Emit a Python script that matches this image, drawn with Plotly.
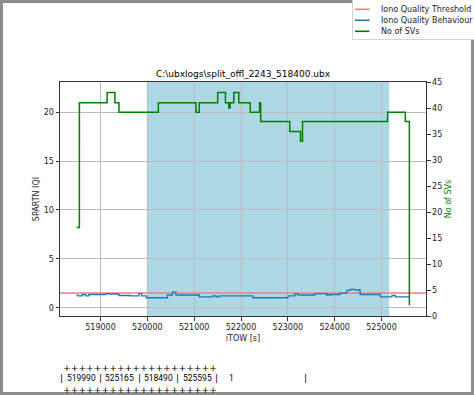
import plotly.graph_objects as go

# ---- data ----
title_text = "C:\\ubxlogs\\split_offl_2243_518400.ubx"
x_range = [518135, 525950]
shade_range = [519990, 525165]
threshold = 1.5

iqi_tow = [518490, 518519, 518605, 518678, 518749, 519120, 519178, 519393, 519644, 519822,
           519880, 519979, 520429, 520537, 520610, 521110, 521395, 521468, 521539, 521610,
           522253, 523004, 523148, 523219, 523577, 523829, 523899, 524114, 524258, 524329,
           524436, 524507, 524543, 524972, 525223, 525294, 525595]
iqi_val = [1.3, 1.2, 1.35, 1.2, 1.35, 1.45, 1.4, 1.25, 1.2, 1.45,
           1.2, 1.02, 1.3, 1.6, 1.3, 1.1, 1.2, 1.1, 1.2, 1.2,
           1.02, 1.2, 1.4, 1.3, 1.45, 1.3, 1.35, 1.5, 1.78, 1.88,
           1.8, 1.85, 1.35, 1.1, 1.25, 1.1, 1.1]

sv_tow = [518490, 518549, 519142, 519307, 519393, 520235, 521039, 521109, 521502, 521668,
          521738, 521768, 521846, 521953, 522197, 522397, 522420, 523041, 523271, 523313,
          525129, 525509, 525580, 525595]
sv_val = [17, 41, 43, 41, 39.2, 41, 39.2, 41, 43, 41,
          40, 41, 43, 41, 39.2, 41, 37.4, 35.5, 33.6, 37.4,
          39.2, 37.4, 37.4, 2.1]

series_names = ["Iono Quality Threshold", "Iono Quality Behaviour", "No of SVs"]
series_colors = ["#f08080", "#1f77b4", "#008000"]

table_values = ["519990", "525165", "518490", "525595", "1"]
left_ticks = [0, 5, 10, 15, 20]
right_ticks = [0, 5, 10, 15, 20, 25, 30, 35, 40, 45]

FONT = "DejaVu Sans"

fig = go.Figure()
fig.add_trace(go.Scatter(x=x_range, y=[threshold, threshold], mode="lines",
                         name=series_names[0],
                         line=dict(color=series_colors[0], width=1.6)))
fig.add_trace(go.Scatter(x=iqi_tow, y=iqi_val, mode="lines", line_shape="hv",
                         name=series_names[1],
                         line=dict(color=series_colors[1], width=1.3)))
fig.add_trace(go.Scatter(x=sv_tow, y=sv_val, mode="lines", line_shape="hv",
                         name=series_names[2], yaxis="y2",
                         line=dict(color=series_colors[2], width=1.5)))

# plot area geometry (px)
W, H = 474, 395
L, R, T, B = 60, 48, 82, 79
pw, ph = W - L - R, H - T - B

def px2paper_x(px):
    return (px - L) / pw

def px2paper_y(py):
    return (H - B - py) / ph

shapes = [
    dict(type="rect", xref="x", yref="paper", x0=shade_range[0], x1=shade_range[1],
         y0=0, y1=1, fillcolor="#add8e6", line=dict(width=0), layer="below"),
    # window frame
    dict(type="rect", xref="paper", yref="paper",
         x0=px2paper_x(1.5), x1=px2paper_x(W - 1.5), y0=px2paper_y(H - 1.5), y1=px2paper_y(1.5),
         line=dict(color="#8c8c8c", width=3), fillcolor="rgba(0,0,0,0)", layer="above"),
    # legend box
    dict(type="rect", xref="paper", yref="paper",
         x0=px2paper_x(352.5), x1=px2paper_x(W + 2), y0=px2paper_y(39.5), y1=px2paper_y(-2),
         line=dict(color="#d4d4d4", width=1), fillcolor="white", layer="above"),
]

annotations = []
legend_rows = [9.3, 20.3, 31.3]
for name, color, py in zip(series_names, series_colors, legend_rows):
    shapes.append(dict(type="line", xref="paper", yref="paper",
                       x0=px2paper_x(355), x1=px2paper_x(369.5), y0=px2paper_y(py), y1=px2paper_y(py),
                       line=dict(color=color, width=1.6), layer="above"))
    annotations.append(dict(text=name, xref="paper", yref="paper",
                            x=px2paper_x(378.5), y=px2paper_y(py), xanchor="left", yanchor="middle",
                            showarrow=False, font=dict(family=FONT, size=8, color="#222")))

plus_row = "+" * 20
for py in (367, 389):
    annotations.append(dict(text=plus_row, xref="paper", yref="paper",
                            x=px2paper_x(60.5), y=px2paper_y(py), xanchor="left", yanchor="middle",
                            showarrow=False, font=dict(family=FONT, size=9.2, color="black")))
pipe_x = [61.7, 100.7, 139.3, 177.7, 216.7, 305]
val_x = [81.3, 119.5, 158, 197, 231.7]
for px in pipe_x:
    annotations.append(dict(text="|", xref="paper", yref="paper", x=px2paper_x(px), y=px2paper_y(377.7),
                            xanchor="center", yanchor="middle", showarrow=False,
                            font=dict(family=FONT, size=9, color="black")))
for v, px in zip(table_values, val_x):
    annotations.append(dict(text=v, xref="paper", yref="paper", x=px2paper_x(px), y=px2paper_y(377.7),
                            xanchor="center", yanchor="middle", showarrow=False,
                            font=dict(family="Liberation Sans Narrow, Roboto, " + FONT, size=8.5, color="black")))

fig.update_layout(
    width=W, height=H,
    margin=dict(l=L, r=R, t=T, b=B, pad=0, autoexpand=False),
    paper_bgcolor="white", plot_bgcolor="white",
    font=dict(family=FONT, size=8, color="#222"),
    title=dict(text=title_text, x=0.5, xref="paper", xanchor="center",
               y=1 - 74 / H, yref="container", yanchor="middle",
               font=dict(family=FONT, size=9, color="black")),
    xaxis=dict(range=x_range, dtick=1000, tick0=519000, tickformat="d",
               showgrid=True, gridcolor="#bcbcbc", gridwidth=1,
               showline=True, linecolor="#333", linewidth=1, mirror=True,
               ticks="outside", ticklen=3.5, tickcolor="#333", zeroline=False,
               title=dict(text="iTOW [s]", standoff=4, font=dict(size=8))),
    yaxis=dict(range=[-0.85, 23.1], tickvals=left_ticks,
               showgrid=True, gridcolor="#bcbcbc", gridwidth=1,
               showline=True, linecolor="#333", linewidth=1,
               ticks="outside", ticklen=3.5, tickcolor="#333", zeroline=False,
               title=dict(text="SPARTN IQI", standoff=2, font=dict(size=8))),
    yaxis2=dict(range=[0, 45], tickvals=right_ticks, overlaying="y", side="right", anchor="x",
                showgrid=False, showline=True, linecolor="#333", linewidth=1,
                ticks="outside", ticklen=3.5, tickcolor="#333", zeroline=False,
                title=dict(text="No of SVs", standoff=4, font=dict(size=8, color="#008000"))),
    shapes=shapes,
    annotations=annotations,
    showlegend=False,
)

fig.write_html("out.html", config={"displayModeBar": False},
               post_script="document.body.style.margin='0';document.body.style.overflow='hidden';")
